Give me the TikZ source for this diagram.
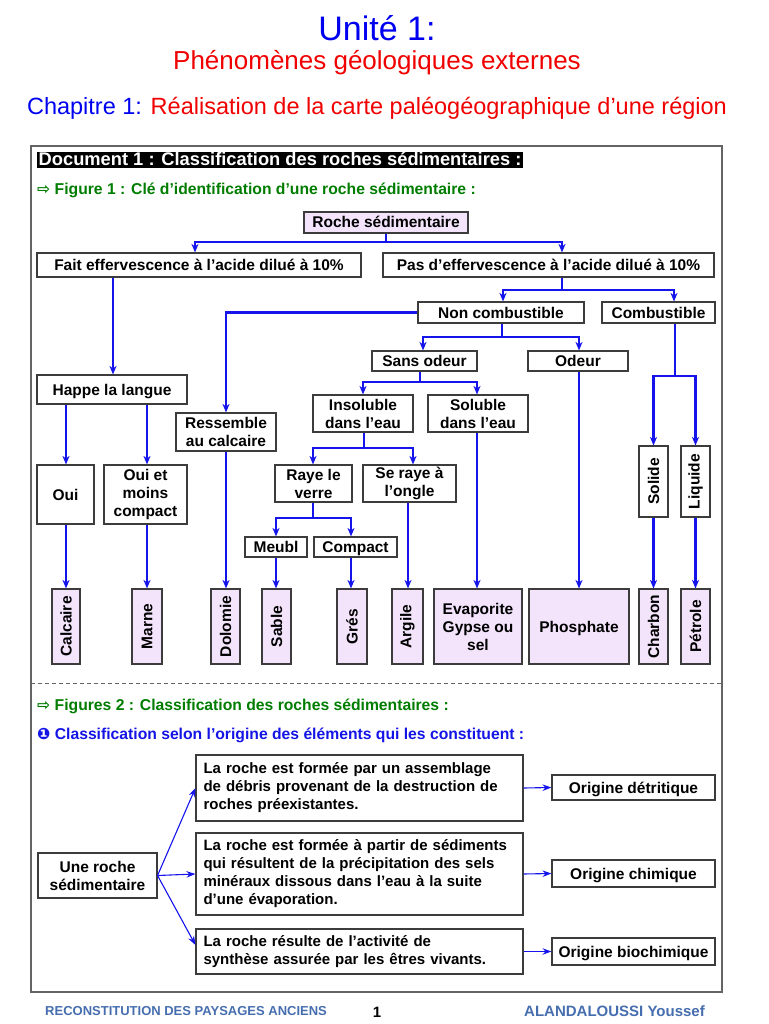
\documentclass[tikz,border=0pt]{standalone}
\usepackage{fontspec}
\setmainfont{Liberation Sans}
\newfontfamily\symfont{DejaVu Sans}
\usetikzlibrary{arrows.meta}
\definecolor{boxgray}{RGB}{60,60,60}
\definecolor{framegray}{RGB}{100,100,100}
\definecolor{pinkfill}{RGB}{243,228,252}
\definecolor{lineblue}{RGB}{20,20,235}
\definecolor{titleblue}{RGB}{0,0,240}
\definecolor{titlered}{RGB}{240,0,0}
\definecolor{figgreen}{RGB}{0,125,0}
\definecolor{figblue}{RGB}{20,20,230}
\definecolor{footblue}{RGB}{70,110,175}
\begin{document}
\begin{tikzpicture}[x=1pt,y=-1pt,
  bb/.style={draw=boxgray, line width=1.1pt, fill=white, inner sep=1pt,
    font=\fontsize{15.5}{18}\selectfont\bfseries},
  box/.style={bb, align=center},
  one/.style={bb, text height=12pt, text depth=1pt},
  rbox/.style={box, fill=pinkfill},
  rone/.style={one, fill=pinkfill},
  lbox/.style={box, align=left, text width=312pt, inner xsep=7.5pt, inner ysep=3pt,
    font=\fontsize{15}{18}\selectfont\bfseries},
  conn/.style={draw=lineblue, line width=2.1pt},
  arr/.style={conn, -{Stealth[length=8.5pt,width=7pt,inset=2.5pt]}},
  thinarr/.style={draw=lineblue, line width=1.1pt, -{Stealth[length=9pt,width=6.5pt,inset=3pt]}},
  vtext/.style={rotate=90, inner sep=0pt, font=\fontsize{15.5}{18}\selectfont\bfseries},
]
\useasboundingbox (0,0) rectangle (768,1024);

% ---------- header ----------
\node[font=\fontsize{34}{40}\selectfont, text=titleblue] (t1) at (377,28) {Unité 1:};
\node[font=\fontsize{26}{30}\selectfont, text=titlered] (t2) at (377,63) {Phénomènes géologiques externes};
\node[font=\fontsize{23.5}{28}\selectfont] (t3) at (377,108)
  {\textcolor{titleblue}{Chapitre 1:} \textcolor{titlered}{Réalisation de la carte paléogéographique d’une région}};

% ---------- frame ----------
\draw[framegray, line width=1.5pt] (31,146) rectangle (722,992);
\draw[framegray, line width=0.8pt, dash pattern=on 4pt off 3pt] (31,683) -- (722,683);

\node[anchor=west, fill=black, text=white, inner xsep=1.5pt, inner ysep=1pt,
  text height=12.5pt, text depth=1.5pt, font=\fontsize{18.3}{20}\selectfont\bfseries]
  (doc) at (37,160) {Document 1 : Classification des roches sédimentaires :};
\node[anchor=west, inner sep=0pt, text=figgreen, font=\fontsize{15.7}{18}\selectfont\bfseries]
  (fig1) at (37,190) {{\symfont ⇨} Figure 1 : Clé d’identification d’une roche sédimentaire :};

% ---------- figure 1 nodes ----------
\node[rone, minimum width=164pt, minimum height=21pt] (roche) at (386,222.5) {Roche sédimentaire};
\node[one, minimum width=324pt, minimum height=24pt] (fait) at (199,265) {Fait effervescence à l’acide dilué à 10\%};
\node[one, minimum width=331pt, minimum height=24pt] (pas) at (548.5,265) {Pas d’effervescence à l’acide dilué à 10\%};
\node[one, minimum width=166pt, minimum height=21pt] (noncomb) at (501,312.5) {Non combustible};
\node[one, minimum width=113pt, minimum height=21pt] (comb) at (658.5,312.5) {Combustible};
\node[one, minimum width=105pt, minimum height=20pt] (sans) at (424.5,361) {Sans odeur};
\node[one, minimum width=100pt, minimum height=20pt] (odeur) at (578,361) {Odeur};
\node[box, minimum width=100pt, minimum height=37pt] (insol) at (363,413.5) {Insoluble\\dans l’eau};
\node[box, minimum width=100pt, minimum height=37pt] (sol) at (478,413.5) {Soluble\\dans l’eau};
\node[box, minimum width=77pt, minimum height=37pt] (raye) at (313.5,483.5) {Raye le\\verre};
\node[box, minimum width=93pt, minimum height=37pt] (seraye) at (409.5,483.5) {Se raye à\\l’ongle};
\node[one, minimum width=62pt, minimum height=20pt] (meubl) at (276,547) {Meubl};
\node[one, minimum width=83pt, minimum height=20pt] (compact) at (355.5,547) {Compact};
\node[one, minimum width=150pt, minimum height=29pt] (happe) at (112,389.5) {Happe la langue};
\node[one, minimum width=57pt, minimum height=59pt] (oui) at (65.5,494.5) {Oui};
\node[box, minimum width=83pt, minimum height=59pt] (ouimoins) at (145.5,494.5) {Oui et\\moins\\compact};
\node[box, minimum width=100pt, minimum height=38pt] (ressemble) at (226,432) {Ressemble\\au calcaire};
\node[box, minimum width=29pt, minimum height=71pt] (solide) at (653.5,481.5) {};
\node[vtext] (solidet) at (solide.center) {Solide};
\node[box, minimum width=29pt, minimum height=71pt] (liquide) at (695.5,481.5) {};
\node[vtext] (liquidet) at (liquide.center) {Liquide};

% bottom row
\node[rbox, minimum width=28pt, minimum height=75pt] (calcaire) at (66,626.5) {};
\node[vtext] (calcairet) at (calcaire.center) {Calcaire};
\node[rbox, minimum width=30pt, minimum height=75pt] (marne) at (147,626.5) {};
\node[vtext] (marnet) at (marne.center) {Marne};
\node[rbox, minimum width=29pt, minimum height=75pt] (dolomie) at (225.5,626.5) {};
\node[vtext] (dolomiet) at (dolomie.center) {Dolomie};
\node[rbox, minimum width=29pt, minimum height=75pt] (sable) at (276.5,626.5) {};
\node[vtext] (sablet) at (sable.center) {Sable};
\node[rbox, minimum width=30pt, minimum height=75pt] (gres) at (352,626.5) {};
\node[vtext] (grest) at (gres.center) {Grés};
\node[rbox, minimum width=31pt, minimum height=75pt] (argile) at (407.5,626.5) {};
\node[vtext] (argilet) at (argile.center) {Argile};
\node[rbox, minimum width=88pt, minimum height=75pt] (evap) at (478,626.5) {Evaporite\\Gypse ou\\sel};
\node[rone, minimum width=100pt, minimum height=75pt] (phos) at (579,626.5) {Phosphate};
\node[rbox, minimum width=29pt, minimum height=75pt] (charbon) at (653.5,626.5) {};
\node[vtext] (charbont) at (charbon.center) {Charbon};
\node[rbox, minimum width=29pt, minimum height=75pt] (petrole) at (695.5,626.5) {};
\node[vtext] (petrolet) at (petrole.center) {Pétrole};

% ---------- figure 1 connectors ----------
\coordinate (j1) at (386,242);
\draw[conn] (roche.south) -- (j1);
\draw[arr] (j1) -| (fait.north -| 195,0);
\draw[arr] (j1) -| (pas.north -| 562,0);

\draw[arr] (fait.south -| 113,0) -- (happe.north -| 113,0);
\draw[arr] (noncomb.west) -| (ressemble.north);

\coordinate (j2) at (562,290);
\draw[conn] (pas.south -| j2) -- (j2);
\draw[arr] (j2) -| (noncomb.north -| 503,0);
\draw[arr] (j2) -| (comb.north -| 674,0);

\coordinate (j3) at (502,337);
\draw[conn] (noncomb.south -| j3) -- (j3);
\draw[arr] (j3) -| (sans.north -| 423,0);
\draw[arr] (j3) -| (odeur.north -| 579,0);

\coordinate (j4) at (420,382);
\draw[conn] (sans.south -| j4) -- (j4);
\draw[arr] (j4) -| (insol.north -| 363,0);
\draw[arr] (j4) -| (sol.north -| 477,0);

\coordinate (j5) at (364,448);
\draw[conn] (insol.south -| j5) -- (j5);
\draw[arr] (j5) -| (raye.north -| 313,0);
\draw[arr] (j5) -| (seraye.north -| 413,0);

\coordinate (j6) at (313,518);
\draw[conn] (raye.south -| j6) -- (j6);
\draw[arr] (j6) -| (meubl.north -| 276,0);
\draw[arr] (j6) -| (compact.north -| 351,0);

\draw[arr] (happe.south -| 66,0) -- (oui.north -| 66,0);
\draw[arr] (happe.south -| 147,0) -- (ouimoins.north -| 147,0);

\coordinate (j7) at (675,376);
\draw[conn] (comb.south -| j7) -- (j7);
\draw[arr] (j7) -| (solide.north);
\draw[arr] (j7) -| (liquide.north);

\draw[arr] (oui.south -| 66,0) -- (calcaire.north -| 66,0);
\draw[arr] (ouimoins.south -| 147,0) -- (marne.north -| 147,0);
\draw[arr] (ressemble.south) -- (ressemble.south |- dolomie.north);
\draw[arr] (meubl.south) -- (meubl.south |- sable.north);
\draw[arr] (compact.south -| 351,0) -- (gres.north -| 351,0);
\draw[arr] (seraye.south -| 408,0) -- (argile.north -| 408,0);
\draw[arr] (sol.south -| 477,0) -- (evap.north -| 477,0);
\draw[arr] (odeur.south -| 579,0) -- (phos.north -| 579,0);
\draw[arr] (solide.south) -- (charbon.north);
\draw[arr] (liquide.south) -- (petrole.north);

% ---------- figure 2 ----------
\node[anchor=west, inner sep=0pt, text=figgreen, font=\fontsize{15.7}{18}\selectfont\bfseries]
  (fig2) at (37,706) {{\symfont ⇨} Figures 2 : Classification des roches sédimentaires :};
\node[anchor=west, inner sep=0pt, text=figblue, font=\fontsize{15.7}{18}\selectfont\bfseries]
  (fig2a) at (37,735) {{\symfont ❶} Classification selon l’origine des éléments qui les constituent :};

\node[box, minimum width=119pt, minimum height=45pt] (une) at (97.5,875.5) {Une roche\\sédimentaire};
\node[lbox, minimum height=66pt] (b1) at (359.5,788)
  {La roche est formée par un assemblage\\de débris provenant de la destruction de\\roches préexistantes.};
\node[lbox, minimum height=82pt] (b2) at (359.5,874)
  {La roche est formée à partir de sédiments\\qui résultent de la précipitation des sels\\minéraux dissous dans l’eau à la suite\\d’une évaporation.};
\node[lbox, minimum height=45pt] (b3) at (359.5,951.5)
  {La roche résulte de l’activité de\\synthèse assurée par les êtres vivants.};
\node[one, minimum width=163pt, minimum height=25pt] (o1) at (633.5,787.5) {Origine détritique};
\node[one, minimum width=163pt, minimum height=27pt] (o2) at (633.5,873.5) {Origine chimique};
\node[one, minimum width=163pt, minimum height=27pt] (o3) at (633.5,951.5) {Origine biochimique};

\draw[thinarr] (une.east) -- (b1.west);
\draw[thinarr] (une.east) -- (b2.west);
\draw[thinarr] (une.east) -- ([yshift=6.5pt]b3.west);
\draw[thinarr] (b1.east) -- (o1.west);
\draw[thinarr] (b2.east) -- (o2.west);
\draw[thinarr] (b3.east) -- (o3.west);

% ---------- footer ----------
\node[anchor=west, inner sep=0pt, text=footblue, font=\fontsize{13}{15}\selectfont\bfseries]
  (foot1) at (45,1011) {RECONSTITUTION DES PAYSAGES ANCIENS};
\node[inner sep=0pt, font=\fontsize{15}{17}\selectfont\bfseries] (foot2) at (377,1012) {1};
\node[anchor=west, inner sep=0pt, text=footblue, font=\fontsize{15}{17}\selectfont\bfseries]
  (foot3) at (524,1011) {ALANDALOUSSI Youssef};
\end{tikzpicture}
\end{document}
